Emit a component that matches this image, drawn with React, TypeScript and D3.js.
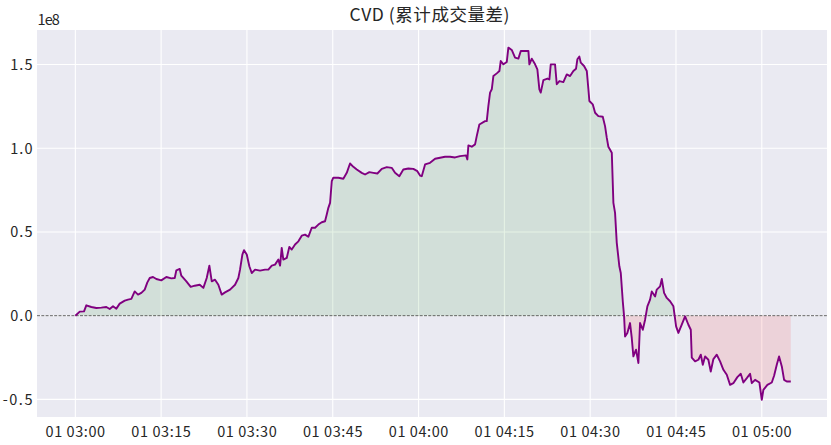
import React from "react";
import * as d3 from "d3";

// minutes after 01 03:00 (UTC) and cumulative volume delta in units of 1e8
const minutes = [
  0, 0.77, 1.52, 1.92, 2.8, 3.67, 4.55, 5.42, 6.01, 6.59,
  7.17, 7.76, 8.64, 9.21, 9.79, 10.38, 10.96, 11.54, 12.13, 12.59,
  13.01, 13.58, 14.16, 15.03, 15.91, 16.78, 17.38, 17.66, 18.25, 18.53,
  19.41, 20.17, 20.87, 21.75, 22.38, 22.97, 23.43, 23.85, 24.42, 25.0,
  25.59, 26.17, 27.05, 27.92, 28.5, 28.79, 29.2, 29.49, 29.97, 30.42,
  30.84, 31.42, 32.29, 33.16, 33.74, 34.34, 34.91, 35.49, 35.79, 36.08,
  36.36, 36.96, 37.41, 37.83, 38.41, 38.99, 39.58, 40.16, 40.73, 41.33,
  41.91, 42.48, 43.08, 43.65, 43.95, 44.23, 44.53, 44.83, 45.1, 45.98,
  46.85, 47.45, 48.02, 48.6, 49.2, 50.07, 50.65, 51.4, 52.1, 52.8,
  53.57, 54.44, 55.31, 55.89, 56.64, 57.34, 58.22, 59.09, 59.79, 60.26,
  60.56, 61.14, 62.01, 62.89, 63.76, 64.63, 65.51, 66.38, 67.26, 68.3,
  68.53, 68.71, 69.3, 69.88, 70.17, 70.63, 71.63, 71.92, 72.2, 72.5,
  72.8, 73.08, 73.67, 74.13, 74.37, 74.83, 75.42, 75.7, 76.29, 76.87,
  77.45, 77.87, 78.62, 79.2, 79.37, 79.79, 80.37, 80.77, 81.12, 81.36,
  81.82, 82.52, 82.87, 83.11, 83.86, 84.16, 84.62, 85.31, 85.91, 86.49,
  87.06, 87.53, 87.76, 88.11, 88.36, 88.93, 89.41, 89.69, 89.86, 90.45,
  90.86, 91.43, 92.2, 92.6, 92.9, 93.18, 93.78, 94.06, 94.35, 94.65,
  95.1, 95.35, 95.7, 95.93, 96.1, 96.5, 96.97, 97.27, 97.55, 98.02,
  98.43, 98.72, 99.2, 99.6, 100.0, 100.47, 100.77, 101.35, 101.64, 102.22,
  102.52, 102.92, 103.39, 103.97, 104.55, 105.02, 105.42, 106.01, 106.59, 107.17,
  107.59, 107.76, 108.34, 108.92, 109.34, 109.69, 110.09, 110.66, 111.08, 111.54,
  112.13, 112.71, 113.29, 113.88, 114.46, 115.03, 115.73, 116.33, 116.78, 117.38,
  117.95, 118.25, 118.83, 119.58, 120.0, 120.28, 120.98, 121.75, 122.15, 122.62,
  123.02, 123.5, 123.9, 124.37, 125.07,
];

const cvdE8 = [
  0, 0.024, 0.026, 0.062, 0.052, 0.046, 0.048, 0.052, 0.04, 0.056,
  0.042, 0.072, 0.09, 0.096, 0.1, 0.145, 0.126, 0.136, 0.156, 0.199,
  0.225, 0.231, 0.219, 0.211, 0.231, 0.223, 0.225, 0.271, 0.279, 0.239,
  0.205, 0.172, 0.179, 0.185, 0.166, 0.225, 0.299, 0.205, 0.215, 0.185,
  0.126, 0.139, 0.156, 0.185, 0.225, 0.275, 0.365, 0.391, 0.365, 0.295,
  0.255, 0.275, 0.269, 0.275, 0.275, 0.299, 0.305, 0.335, 0.299, 0.405,
  0.335, 0.345, 0.411, 0.395, 0.425, 0.444, 0.478, 0.484, 0.471, 0.525,
  0.525, 0.544, 0.558, 0.564, 0.604, 0.644, 0.674, 0.803, 0.824, 0.824,
  0.818, 0.853, 0.909, 0.889, 0.873, 0.853, 0.843, 0.857, 0.853, 0.849,
  0.877, 0.887, 0.883, 0.853, 0.833, 0.873, 0.879, 0.877, 0.863, 0.837,
  0.833, 0.903, 0.913, 0.937, 0.943, 0.949, 0.949, 0.945, 0.953, 0.957,
  0.933, 1.017, 1.009, 1.023, 1.072, 1.142, 1.162, 1.162, 1.252, 1.332,
  1.352, 1.431, 1.447, 1.461, 1.521, 1.501, 1.515, 1.601, 1.587, 1.541,
  1.535, 1.581, 1.581, 1.581, 1.501, 1.535, 1.501, 1.471, 1.352, 1.332,
  1.407, 1.416, 1.411, 1.501, 1.501, 1.382, 1.401, 1.395, 1.441, 1.431,
  1.461, 1.475, 1.531, 1.547, 1.511, 1.491, 1.461, 1.352, 1.282, 1.262,
  1.212, 1.192, 1.188, 1.132, 1.063, 1.009, 0.973, 0.674, 0.614, 0.435,
  0.295, 0.255, 0.086, -0.004, -0.124, -0.103, -0.044, -0.133, -0.243, -0.203,
  -0.283, -0.044, -0.084, -0.024, 0.056, 0.096, 0.145, 0.115, 0.156, 0.175,
  0.219, 0.136, 0.106, 0.086, 0.056, -0.064, -0.103, -0.054, -0.004, -0.054,
  -0.084, -0.251, -0.273, -0.263, -0.233, -0.293, -0.243, -0.263, -0.333, -0.259,
  -0.233, -0.273, -0.323, -0.353, -0.413, -0.403, -0.367, -0.347, -0.399, -0.373,
  -0.347, -0.403, -0.383, -0.399, -0.502, -0.443, -0.413, -0.399, -0.359, -0.293,
  -0.243, -0.303, -0.383, -0.393, -0.393,
];

const yTicks = [-0.5, 0, 0.5, 1.0, 1.5];
const yTickLabels = ["-0.5", "0.0", "0.5", "1.0", "1.5"];
const titleText = "CVD (累计成交量差)";
const offsetText = "1e8";

const W = 831;
const H = 445;
const P = { left: 37, right: 827, top: 30, bottom: 417 };
const FONT = "'Noto Sans CJK SC', 'Noto Sans', sans-serif";
const TXT = "#262626";

export default function App() {
  const base = Date.UTC(2024, 0, 1, 3, 0, 0);
  const toDate = (m: number) => new Date(base + m * 60000);
  const data = minutes.map((m, i) => ({ t: toDate(m), v: cvdE8[i] }));

  const x = d3
    .scaleUtc()
    .domain([toDate(-6.7), toDate(131.4)])
    .range([P.left, P.right]);
  const y = d3.scaleLinear().domain([-0.605, 1.706]).range([P.bottom, P.top]);

  // insert zero crossings so fills meet the baseline cleanly
  const pts: { t: Date; v: number }[] = [];
  for (let i = 0; i < data.length; i++) {
    const a = data[i];
    pts.push(a);
    const b = data[i + 1];
    if (b && a.v * b.v < 0) {
      const f = a.v / (a.v - b.v);
      const tt = a.t.getTime() + f * (b.t.getTime() - a.t.getTime());
      pts.push({ t: new Date(tt), v: 0 });
    }
  }

  const greenArea = d3
    .area<{ t: Date; v: number }>()
    .x((d) => x(d.t))
    .y0(y(0))
    .y1((d) => y(Math.max(d.v, 0)));
  const redArea = d3
    .area<{ t: Date; v: number }>()
    .x((d) => x(d.t))
    .y0(y(0))
    .y1((d) => y(Math.min(d.v, 0)));
  const line = d3
    .line<{ t: Date; v: number }>()
    .x((d) => x(d.t))
    .y((d) => y(d.v));

  const xTicks = x.ticks(d3.utcMinute.every(15) as any);
  const fmt = d3.utcFormat("%d %H:%M");

  const tickFont = 14.5;
  const charW = 7.45;

  return (
    <svg
      width={W}
      height={H}
      style={{ position: "absolute", left: 0, top: 0, background: "#ffffff" }}
      fontFamily={FONT}
    >
      <rect
        x={P.left}
        y={P.top}
        width={P.right - P.left}
        height={P.bottom - P.top}
        fill="#EAEAF2"
      />
      {xTicks.map((t, i) => (
        <line
          key={"gx" + i}
          x1={x(t)}
          x2={x(t)}
          y1={P.top}
          y2={P.bottom}
          stroke="#ffffff"
          strokeWidth={1.1}
        />
      ))}
      {yTicks.map((v, i) => (
        <line
          key={"gy" + i}
          x1={P.left}
          x2={P.right}
          y1={y(v)}
          y2={y(v)}
          stroke="#ffffff"
          strokeWidth={1.1}
        />
      ))}
      <path d={greenArea(pts) || ""} fill="green" fillOpacity={0.1} />
      <path d={redArea(pts) || ""} fill="red" fillOpacity={0.1} />
      <line
        x1={P.left}
        x2={P.right}
        y1={y(0)}
        y2={y(0)}
        stroke="#000"
        strokeOpacity={0.75}
        strokeWidth={0.8}
        strokeDasharray="3,1.3"
      />
      <path
        d={line(data) || ""}
        fill="none"
        stroke="#800080"
        strokeWidth={1.9}
        strokeLinejoin="round"
      />
      {xTicks.map((t, i) => {
        const s = fmt(t);
        return (
          <text
            key={"tx" + i}
            x={x(t)}
            y={437}
            textAnchor="middle"
            fontSize={tickFont}
            fill={TXT}
            textLength={s.length * charW}
            lengthAdjust="spacing"
          >
            {s}
          </text>
        );
      })}
      {yTicks.map((v, i) => {
        const s = yTickLabels[i];
        return (
          <text
            key={"ty" + i}
            x={32.5}
            y={y(v) + 5.3}
            textAnchor="end"
            fontSize={tickFont}
            fill={TXT}
            textLength={s.length * charW}
            lengthAdjust="spacing"
          >
            {s}
          </text>
        );
      })}
      <text
        x={P.left + 0.5}
        y={25}
        fontSize={tickFont}
        fill={TXT}
        textLength={offsetText.length * charW}
        lengthAdjust="spacing"
      >
        {offsetText}
      </text>
      <text
        x={429.5}
        y={20.5}
        textAnchor="middle"
        fontSize={17.5}
        fill={TXT}
        textLength={160}
        lengthAdjust="spacing"
      >
        {titleText}
      </text>
    </svg>
  );
}
